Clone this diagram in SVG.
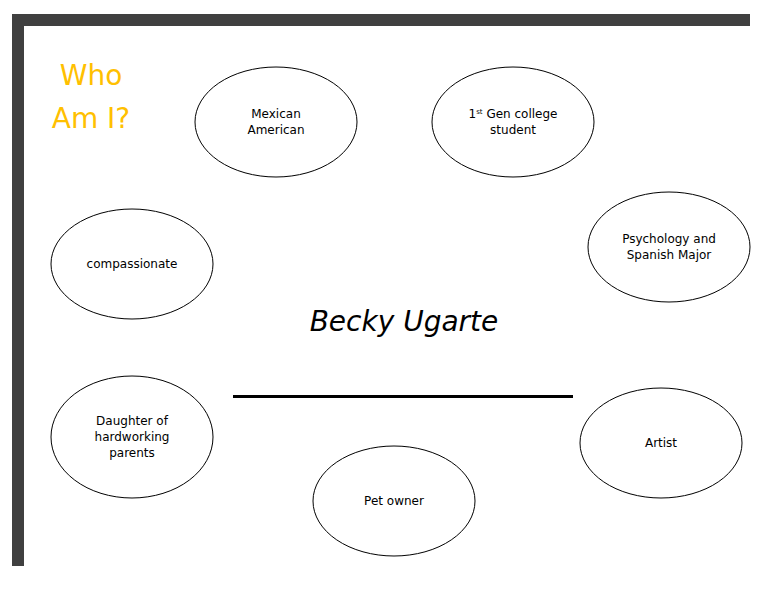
<svg xmlns="http://www.w3.org/2000/svg" width="768" height="594" viewBox="0 0 768 594">
<style>
.n ellipse{fill:#fff;stroke:#000;stroke-width:1}
.n text{font-family:"DejaVu Sans",sans-serif;font-size:12px;text-anchor:middle;fill:#000}
.t{font-family:"DejaVu Sans",sans-serif;font-size:28px;fill:#FFC000;text-anchor:middle}
</style>
<rect width="768" height="594" fill="#fff"/>
<rect x="12" y="14" width="738" height="12" fill="#404040"/>
<rect x="12" y="14" width="12" height="552" fill="#404040"/>
<text class="t" x="91" y="85">Who</text>
<text class="t" x="91" y="128">Am I?</text>
<text x="404" y="331" font-family="DejaVu Sans,sans-serif" font-size="28" font-style="italic" text-anchor="middle">Becky Ugarte</text>
<g id="connectors"><line x1="233" y1="396.5" x2="573" y2="396.5" stroke="#000" stroke-width="3"/></g>
<g id="n1" class="n"><ellipse cx="276" cy="122" rx="81" ry="55"/><text x="276" y="118">Mexican</text><text x="276" y="134">American</text></g>
<g id="n2" class="n"><ellipse cx="513" cy="122" rx="81" ry="55"/><text x="513" y="118">1<tspan font-size="7" dy="-4">st</tspan><tspan dy="4"> Gen college</tspan></text><text x="513" y="134">student</text></g>
<g id="n3" class="n"><ellipse cx="132" cy="264" rx="81" ry="55"/><text x="132" y="268">compassionate</text></g>
<g id="n4" class="n"><ellipse cx="669" cy="247" rx="81" ry="55"/><text x="669" y="243">Psychology and</text><text x="669" y="259">Spanish Major</text></g>
<g id="n5" class="n"><ellipse cx="132" cy="437" rx="81" ry="61"/><text x="132" y="425">Daughter of</text><text x="132" y="441">hardworking</text><text x="132" y="457">parents</text></g>
<g id="n6" class="n"><ellipse cx="661" cy="443" rx="81" ry="55"/><text x="661" y="447">Artist</text></g>
<g id="n7" class="n"><ellipse cx="394" cy="501" rx="81" ry="55"/><text x="394" y="505">Pet owner</text></g>
</svg>
